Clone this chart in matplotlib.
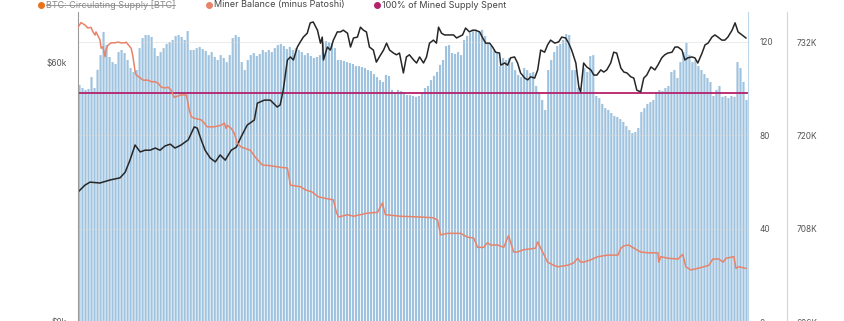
import matplotlib as mpl
mpl.use("Agg")
import matplotlib.pyplot as plt
from matplotlib.lines import Line2D
import numpy as np

plt.rcParams.update({"font.family": ["Inter", "DejaVu Sans"], "font.size": 6})

INK, MUTED = "#262626", "#555555"
BAR_C, PRICE_C, MINER_C, SPENT_C, SUPPLY_C = "#9fc3df", "#262626", "#e8836a", "#b5216b", "#e8731a"

# weekly bars (right inner axis, 0-120)
bar_values = [
    101.5, 100.2, 99.4, 99.8, 104.9, 100.2, 108.0, 114.3, 124.2, 118.6,
    113.5, 111.3, 110.5, 115.6, 116.5, 115.2, 112.2, 108.8, 107.1, 107.9,
    117.3, 121.6, 122.9, 122.9, 122.1, 117.3, 113.9, 115.6, 117.3, 119.1,
    119.9, 120.8, 122.5, 122.9, 122.1, 120.8, 124.6, 116.5, 116.5, 117.3,
    117.8, 116.9, 116.1, 114.3, 115.6, 113.5, 112.2, 114.3, 113.1, 111.3,
    114.3, 121.6, 122.9, 122.1, 111.3, 107.9, 112.2, 114.3, 115.2, 113.9,
    114.8, 116.5, 115.6, 116.5, 115.6, 117.3, 118.6, 119.1, 118.2, 116.9,
    117.8, 116.5, 117.3, 116.5, 115.6, 114.3, 115.2, 113.9, 113.1, 113.5,
    114.3, 119.9, 120.3, 119.9, 119.5, 117.3, 112.2, 112.2, 111.8, 111.3,
    110.9, 110.5, 109.6, 109.6, 109.2, 108.8, 107.9, 107.5, 106.2, 104.9,
    103.6, 102.8, 105.8, 105.4, 99.4, 98.5, 99.4, 98.9, 98.1, 97.2,
    97.2, 96.8, 96.4, 96.8, 98.5, 100.2, 101.1, 103.6, 105.4, 107.1,
    110.1, 112.2, 118.2, 118.6, 115.2, 114.8, 115.6, 114.3, 120.8, 122.5,
    123.8, 124.6, 125.1, 124.2, 125.1, 122.5, 119.1, 118.2, 116.5, 115.2,
    109.6, 113.1, 112.2, 113.1, 111.3, 107.9, 105.8, 104.9, 108.8, 107.9,
    106.6, 107.1, 101.1, 98.5, 95.1, 90.8, 107.9, 112.2, 115.6, 118.2,
    119.1, 120.8, 123.3, 122.9, 107.9, 107.9, 100.2, 98.5, 108.8, 107.1,
    113.9, 114.3, 96.8, 95.9, 93.4, 91.6, 90.8, 89.5, 88.2, 87.8,
    86.9, 85.7, 83.9, 82.2, 80.9, 81.4, 83.1, 89.9, 91.6, 93.4,
    94.2, 95.1, 98.5, 99.4, 98.9, 100.2, 101.1, 107.1, 107.9, 104.5,
    111.3, 115.6, 119.5, 114.3, 111.3, 112.2, 109.6, 107.9, 106.2, 104.5,
    102.8, 96.8, 99.4, 101.1, 96.4, 96.8, 95.9, 96.8, 96.4, 111.3,
    108.8, 102.8, 95.1,
]

# BTC price (left axis, $k) sampled in week units
price_weeks = [
    -0.5, 1.8, 3.5, 6.8, 10.2, 13.5, 15.2, 16.8, 18.5, 20.2, 21.8, 23.5, 25.2, 26.8, 28.5,
    30.2, 31.8, 33.8, 36.2, 38.2, 39.2, 40.5, 41.8, 43.5, 45.2, 46.8, 48.5, 50.5, 52.2,
    53.8, 55.8, 58.2, 59.2, 61.5, 63.5, 65.8, 66.8, 67.8, 69.2, 70.2, 71.2, 72.5, 73.5,
    74.5, 75.8, 76.8, 77.8, 79.2, 80.2, 80.8, 81.2, 82.5, 83.5, 84.5, 85.8, 86.8, 87.8,
    89.2, 90.2, 91.2, 92.5, 93.5, 94.5, 95.5, 96.5, 97.8, 98.8, 99.8, 101.2, 102.2, 103.2,
    104.5, 105.5, 106.5, 107.8, 108.8, 109.8, 111.2, 112.2, 113.2, 114.5, 115.5, 116.5,
    117.8, 118.8, 119.5, 120.5, 121.5, 122.8, 124.5, 125.5, 127.5, 128.5, 129.8, 130.8,
    131.8, 133.2, 134.2, 135.2, 136.5, 137.5, 138.5, 139.8, 140.2, 141.5, 142.5, 143.5,
    144.8, 145.8, 146.8, 148.2, 149.2, 150.2, 151.5, 152.5, 153.5, 154.8, 155.8, 156.8,
    158.2, 159.5, 160.5, 161.8, 162.8, 163.8, 165.2, 166.2, 166.8, 167.8, 168.8, 170.2,
    171.2, 172.2, 173.5, 174.5, 175.5, 176.8, 177.8, 178.8, 180.2, 181.2, 182.2, 183.5,
    184.5, 185.5, 186.8, 187.8, 188.8, 190.2, 191.5, 192.5, 193.8, 194.8, 195.8, 197.2,
    198.2, 199.2, 200.5, 201.5, 202.5, 203.8, 204.8, 205.8, 207.2, 208.2, 209.2, 210.5,
    211.5, 212.5, 213.8, 214.8, 215.8, 217.2, 218.2, 219.2, 220.5, 221.8,
]
price_k = [
    30.1, 31.7, 32.4, 32.2, 32.9, 33.4, 34.7, 37.5, 41.0, 39.4, 39.8, 39.8, 40.3, 39.8, 40.8,
    41.2, 40.3, 41.0, 42.2, 45.2, 44.9, 42.2, 39.8, 38.0, 37.1, 38.7, 37.5, 39.8, 40.5,
    42.9, 45.6, 46.8, 50.7, 51.4, 51.4, 49.8, 50.3, 53.7, 60.7, 61.4, 60.7, 63.7, 64.9,
    66.0, 66.9, 69.3, 69.5, 67.6, 64.6, 66.0, 60.7, 63.7, 63.0, 65.3, 67.2, 67.2, 67.6,
    66.9, 63.7, 65.8, 66.0, 68.3, 67.6, 67.2, 63.7, 63.0, 60.2, 61.4, 63.0, 64.6, 63.0,
    62.3, 61.9, 62.3, 57.7, 61.4, 61.9, 60.7, 60.0, 61.4, 60.0, 61.4, 64.6,
    65.3, 64.6, 68.3, 66.9, 66.5, 66.5, 66.5, 65.8, 66.5, 68.1, 67.2, 67.6,
    67.6, 67.2, 65.8, 64.6, 64.6, 63.7, 62.5, 62.3, 59.5, 60.0, 59.5, 61.2,
    61.4, 60.0, 57.7, 56.5, 56.1, 56.8, 56.5, 58.4, 63.0, 62.5, 64.2, 65.3,
    64.6, 64.9, 66.0, 65.8, 64.6, 63.0, 60.0, 54.4, 53.3, 60.0, 59.1, 58.4,
    57.2, 57.2, 58.4, 57.9, 58.4, 60.0, 62.5, 62.3, 58.8, 57.9, 57.7, 56.8,
    56.5, 53.7, 53.3, 56.5, 57.2, 59.1, 58.4, 59.5, 61.2, 61.9, 62.3, 62.5,
    63.7, 63.7, 63.0, 60.7, 61.2, 61.4, 61.2, 60.0, 62.3, 64.2, 64.6, 66.0,
    66.5, 66.0, 65.3, 65.3, 66.0, 67.6, 69.3, 67.2, 66.5, 65.8,
]

# Miner balance minus Patoshi (outer right axis, K BTC)
miner_weeks = [
    -0.5, 0.5, 1.8, 2.8, 3.8, 4.5, 5.2, 5.5, 6.8, 7.2, 7.8, 8.5, 8.8, 9.5, 10.5, 11.8,
    12.8, 13.8, 15.2, 15.5, 16.8, 17.2, 17.8, 18.5, 18.8, 20.2, 21.2, 22.8, 23.8, 25.2,
    26.2, 27.2, 28.5, 29.5, 30.5, 31.5, 33.8, 35.5, 35.8, 36.5, 37.2, 38.2, 40.5, 41.5,
    42.5, 44.8, 47.2, 48.2, 48.8, 49.2, 50.5, 51.5, 52.5, 53.8, 56.8, 58.5, 60.8, 63.5,
    66.8, 69.2, 70.2, 73.5, 75.2, 77.5, 79.5, 81.8, 84.5, 85.5, 86.2, 89.2, 91.2, 95.8,
    99.2, 100.8, 101.8, 106.8, 113.5, 117.8, 119.2, 120.2, 122.5, 125.8, 126.8, 129.2,
    131.2, 132.5, 134.5, 135.8, 136.8, 139.2, 141.2, 142.8, 144.5, 145.8, 147.8, 150.2,
    151.8, 152.5, 153.5, 155.8, 157.8, 159.2, 162.5, 164.5, 165.8, 166.8, 167.8, 170.2,
    172.5, 175.8, 179.2, 180.2, 181.2, 182.8, 184.5, 186.8, 189.2, 192.5, 192.8, 193.5,
    195.8, 199.2, 200.8, 201.8, 203.5, 205.8, 207.8, 209.5, 210.8, 212.8, 214.2, 215.2,
    217.8, 218.5, 219.5, 221.8,
]
miner_k = [
    733.9, 734.5, 734.2, 733.8, 733.9, 733.3, 732.9, 733.3, 732.3, 731.2, 731.4, 730.1, 731.0, 731.6, 731.9, 731.9,
    732.0, 731.9, 731.9, 732.0, 731.4, 731.2, 730.1, 728.2, 727.8, 727.4, 727.1, 727.1, 726.9, 726.9,
    726.7, 726.2, 726.1, 726.2, 725.8, 724.9, 725.2, 725.2, 724.8, 723.3, 722.4, 722.2, 722.0, 721.6,
    721.1, 721.1, 721.3, 721.6, 720.9, 721.3, 720.9, 720.3, 719.0, 718.5, 718.1, 717.2, 716.2, 716.1,
    715.9, 715.8, 713.6, 713.4, 713.0, 712.7, 712.1, 711.9, 711.7, 710.1, 709.5, 709.8, 709.6, 710.0,
    710.1, 711.3, 709.8, 709.6, 709.5, 709.4, 709.1, 707.2, 707.4, 707.4, 707.4, 706.9,
    706.8, 705.6, 705.6, 706.2, 705.9, 705.9, 705.6, 707.1, 705.0, 705.0, 705.3, 705.4,
    705.5, 706.3, 705.5, 703.7, 703.3, 703.1, 703.3, 703.6, 704.2, 703.7, 703.7, 704.0,
    704.4, 704.6, 704.6, 705.5, 705.8, 705.9, 705.5, 705.0, 704.9, 704.9, 703.7, 704.4,
    704.2, 704.1, 704.7, 703.1, 702.7, 702.9, 703.1, 703.3, 704.1, 704.1, 703.7, 704.2,
    704.4, 702.9, 703.1, 702.9,
]

SPENT_LEVEL = 98.1          # "100% of Mined Supply Spent" reference, bar-axis units
bar_ticks = [0, 40, 80, 120]
price_ticks = [0, 60]
miner_ticks = [696, 708, 720, 732]

W, H = 845, 321
fig = plt.figure(figsize=(W / 100, H / 100), dpi=100)
pos = [78 / W, -1 / H, 670 / W, 310 / H]

ax = fig.add_axes(pos)           # bars, inner right axis
axp = ax.twinx()                 # price, left axis
axm = ax.twinx()                 # miner balance, outer right axis

n = len(bar_values)
x = np.arange(n)
ax.bar(x, bar_values, width=0.72, color=BAR_C, linewidth=0, zorder=2, snap=False)
for t in bar_ticks[1:]:
    ax.axhline(t, color="#d8d8d8", lw=0.6, alpha=0.6, zorder=3)
ax.axhline(SPENT_LEVEL, color=SPENT_C, lw=1.3, zorder=4)
ax.set_xlim(-0.5, n - 0.5)
ax.set_ylim(0, 310 / 2.335)
ax.yaxis.tick_right()
ax.set_yticks(bar_ticks)
ax.set_yticklabels([str(t) for t in bar_ticks])

axp.plot(price_weeks, price_k, color=PRICE_C, lw=1.1)
axp.set_ylim(0, 310 * 0.23166)
axp.yaxis.set_ticks_position("left")
axp.yaxis.set_label_position("left")
axp.set_yticks(price_ticks)
axp.set_yticklabels([f"${t}k" for t in price_ticks])

axm.plot(miner_weeks, miner_k, color=MINER_C, lw=1.1)
axm.set_ylim(696, 696 + 310 * 0.1286)
axm.set_yticks(miner_ticks)
axm.set_yticklabels([f"{t}K" for t in miner_ticks])
axm.spines["right"].set_position(("outward", 28))

for a in (ax, axp, axm):
    a.set_xticks([])
    for s in ("top", "bottom"):
        a.spines[s].set_visible(False)
    a.tick_params(axis="y", length=0, labelsize=6, labelcolor=MUTED)
    a.patch.set_visible(False)
ax.spines["left"].set_visible(False)
ax.spines["right"].set_color("#bcd6ea")
axp.spines["right"].set_visible(False)
axp.spines["left"].set_color("#9a9a9a")
axm.spines["left"].set_visible(False)
axm.spines["right"].set_color("#f1cbbb")
ax.tick_params(axis="y", pad=8)
axp.tick_params(axis="y", pad=8)
axm.tick_params(axis="y", pad=7)

# legend along the top edge
legend = [("BTC: Circulating Supply [BTC]", SUPPLY_C, 41, "#8a8a8a"),
          ("Miner Balance (minus Patoshi)", MINER_C, 209, "#444444"),
          ("100% of Mined Supply Spent", SPENT_C, 377, "#444444")]
ly = 1 - 5 / H
texts = []
for label, col, px, tcol in legend:
    fig.add_artist(Line2D([px / W], [ly], marker="o", ms=4, color=col, lw=0,
                          transform=fig.transFigure))
    texts.append(fig.text((px + 5) / W, ly, label, fontsize=6.5, color=tcol, va="center"))

fig.canvas.draw()
bb = texts[0].get_window_extent().transformed(fig.transFigure.inverted())
fig.add_artist(Line2D([bb.x0, bb.x1], [ly, ly], color="#8a8a8a", lw=0.6,
                      transform=fig.transFigure))

fig.savefig("out.png", dpi=100, facecolor="white")
